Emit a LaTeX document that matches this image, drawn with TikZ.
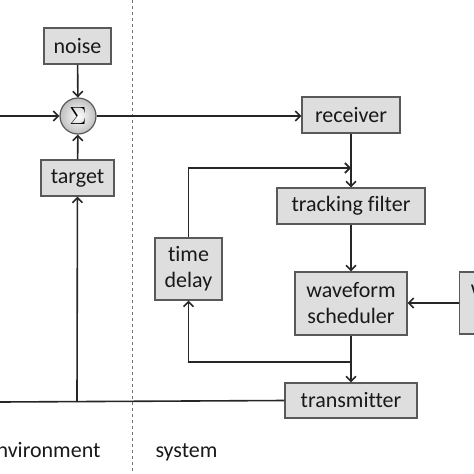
\documentclass[tikz,border=0pt]{standalone}
\usepackage{fontspec}
\setmainfont{Carlito}[Ligatures=NoCommon]
\usetikzlibrary{arrows.meta}

\begin{document}
\begin{tikzpicture}[x=1pt, y=-1pt,
  blk/.style={draw=black!65, fill=black!13, line width=1.2pt, minimum height=36pt, inner sep=0pt, align=center, text=black!90, font=\fontsize{22}{26}\selectfont},
  sum/.style={circle, draw=black!65, line width=1.2pt, minimum size=36pt, inner sep=0pt, inner color=white, outer color=black!25, font=\fontsize{30}{30}\selectfont},
  lbl/.style={text=black!90, font=\fontsize{22}{26}\selectfont},
  ln/.style={draw=black!85, line width=1.6pt},
  arr/.style={ln, -{Straight Barb[length=5pt, width=10pt]}},
  sep/.style={draw=black!55, line width=1pt, dash pattern=on 3pt off 3pt}]
\useasboundingbox (0,0) rectangle (474,474);
\clip (0,0) rectangle (474,474);

% boundary between environment and system
\draw[sep] (132,0) -- (132,474);

% environment side
\node[blk, minimum width=67pt] (noise) at (77.5,46) {noise};
\node[sum] (sum) at (78,116) {$\Sigma$};
\node[blk, minimum width=73pt] (target) at (77.5,178) {target};

% system side
\node[blk, minimum width=98pt] (receiver) at (351,115) {receiver};
\node[blk, minimum width=148pt] (filter) at (351,206) {tracking filter};
\node[blk, minimum width=67pt, minimum height=62pt] (delay) at (188.5,269) {time\\delay};
\node[blk, minimum width=112pt, minimum height=63pt] (scheduler) at (351,303.5) {waveform\\scheduler};
\node[blk, minimum width=112pt, minimum height=62pt, anchor=west] (library) at (459,303) {waveform\\library};
\node[blk, minimum width=132pt, minimum height=35pt] (transmitter) at (351,400.5) {transmitter};

\node[lbl, anchor=base east] (envlabel) at (104,457) {environment};
\node[lbl, anchor=base] (syslabel) at (186.5,457) {system};

\coordinate (in) at (0,116);
\coordinate (out) at (0,402);
\coordinate (tx) at (77,402);
\coordinate (fb) at (351,168);
\coordinate (tap) at (351,362);

\draw[arr] (in) -- (sum);
\draw[arr] (noise) -- (sum);
\draw[arr] (target) -- (sum);
\draw[arr] (sum.east) -- (sum.east -| receiver.west);
\draw[arr] (receiver) -- (filter);
\draw[arr] (delay.north) |- (fb);
\draw[arr] (filter) -- (scheduler);
\draw[arr] (library) -- (library -| scheduler.east);
\draw[arr] (scheduler) -- (transmitter);
\draw[arr] (tap) -| (delay.south);
\draw[ln] (transmitter.west) -- (out);
\draw[arr] (tx) -- (target);
\end{tikzpicture}
\end{document}
